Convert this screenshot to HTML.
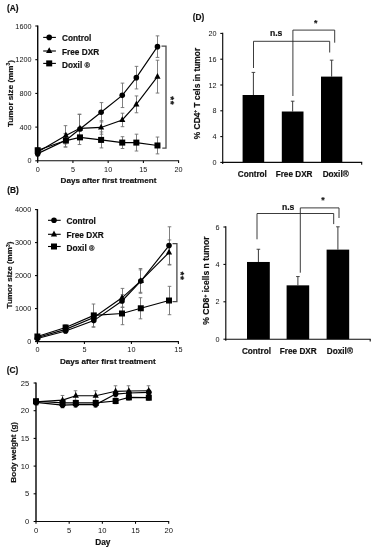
<!DOCTYPE html>
<html lang="en"><head><meta charset="utf-8"><title>Figure</title>
<style>html,body{margin:0;padding:0;background:#fff;}svg{display:block;font-family:"Liberation Sans", Arial, Helvetica, sans-serif;}</style></head><body>
<svg width="375" height="550" viewBox="0 0 375 550">
<rect width="375" height="550" fill="#fff"/>
<text x="7.00" y="11.30" font-size="8.3" font-weight="bold" text-anchor="start" fill="#111"  stroke="#111" stroke-width="0.18">(A)</text>
<line x1="37.50" y1="151.11" x2="37.50" y2="156.17" stroke="#707070" stroke-width="0.9" />
<line x1="35.70" y1="151.11" x2="39.30" y2="151.11" stroke="#707070" stroke-width="0.9" />
<line x1="35.70" y1="156.17" x2="39.30" y2="156.17" stroke="#707070" stroke-width="0.9" />
<line x1="65.50" y1="133.42" x2="65.50" y2="146.98" stroke="#707070" stroke-width="0.9" />
<line x1="63.70" y1="133.42" x2="67.30" y2="133.42" stroke="#707070" stroke-width="0.9" />
<line x1="63.70" y1="146.98" x2="67.30" y2="146.98" stroke="#707070" stroke-width="0.9" />
<line x1="79.50" y1="114.29" x2="79.50" y2="137.46" stroke="#707070" stroke-width="0.9" />
<line x1="77.70" y1="114.29" x2="81.30" y2="114.29" stroke="#707070" stroke-width="0.9" />
<line x1="77.70" y1="137.46" x2="81.30" y2="137.46" stroke="#707070" stroke-width="0.9" />
<line x1="101.50" y1="102.58" x2="101.50" y2="121.96" stroke="#707070" stroke-width="0.9" />
<line x1="99.70" y1="102.58" x2="103.30" y2="102.58" stroke="#707070" stroke-width="0.9" />
<line x1="99.70" y1="121.96" x2="103.30" y2="121.96" stroke="#707070" stroke-width="0.9" />
<line x1="122.50" y1="83.12" x2="122.50" y2="107.55" stroke="#707070" stroke-width="0.9" />
<line x1="120.70" y1="83.12" x2="124.30" y2="83.12" stroke="#707070" stroke-width="0.9" />
<line x1="120.70" y1="107.55" x2="124.30" y2="107.55" stroke="#707070" stroke-width="0.9" />
<line x1="136.50" y1="66.36" x2="136.50" y2="88.93" stroke="#707070" stroke-width="0.9" />
<line x1="134.70" y1="66.36" x2="138.30" y2="66.36" stroke="#707070" stroke-width="0.9" />
<line x1="134.70" y1="88.93" x2="138.30" y2="88.93" stroke="#707070" stroke-width="0.9" />
<line x1="157.50" y1="35.86" x2="157.50" y2="57.43" stroke="#707070" stroke-width="0.9" />
<line x1="155.70" y1="35.86" x2="159.30" y2="35.86" stroke="#707070" stroke-width="0.9" />
<line x1="155.70" y1="57.43" x2="159.30" y2="57.43" stroke="#707070" stroke-width="0.9" />
<line x1="37.50" y1="149.43" x2="37.50" y2="154.48" stroke="#707070" stroke-width="0.9" />
<line x1="35.70" y1="149.43" x2="39.30" y2="149.43" stroke="#707070" stroke-width="0.9" />
<line x1="35.70" y1="154.48" x2="39.30" y2="154.48" stroke="#707070" stroke-width="0.9" />
<line x1="65.50" y1="125.67" x2="65.50" y2="143.95" stroke="#707070" stroke-width="0.9" />
<line x1="63.70" y1="125.67" x2="67.30" y2="125.67" stroke="#707070" stroke-width="0.9" />
<line x1="63.70" y1="143.95" x2="67.30" y2="143.95" stroke="#707070" stroke-width="0.9" />
<line x1="79.50" y1="114.29" x2="79.50" y2="136.79" stroke="#707070" stroke-width="0.9" />
<line x1="77.70" y1="114.29" x2="81.30" y2="114.29" stroke="#707070" stroke-width="0.9" />
<line x1="77.70" y1="136.79" x2="81.30" y2="136.79" stroke="#707070" stroke-width="0.9" />
<line x1="101.50" y1="120.70" x2="101.50" y2="134.18" stroke="#707070" stroke-width="0.9" />
<line x1="99.70" y1="120.70" x2="103.30" y2="120.70" stroke="#707070" stroke-width="0.9" />
<line x1="99.70" y1="134.18" x2="103.30" y2="134.18" stroke="#707070" stroke-width="0.9" />
<line x1="122.50" y1="113.20" x2="122.50" y2="126.68" stroke="#707070" stroke-width="0.9" />
<line x1="120.70" y1="113.20" x2="124.30" y2="113.20" stroke="#707070" stroke-width="0.9" />
<line x1="120.70" y1="126.68" x2="124.30" y2="126.68" stroke="#707070" stroke-width="0.9" />
<line x1="136.50" y1="95.93" x2="136.50" y2="112.78" stroke="#707070" stroke-width="0.9" />
<line x1="134.70" y1="95.93" x2="138.30" y2="95.93" stroke="#707070" stroke-width="0.9" />
<line x1="134.70" y1="112.78" x2="138.30" y2="112.78" stroke="#707070" stroke-width="0.9" />
<line x1="157.50" y1="60.21" x2="157.50" y2="93.06" stroke="#707070" stroke-width="0.9" />
<line x1="155.70" y1="60.21" x2="159.30" y2="60.21" stroke="#707070" stroke-width="0.9" />
<line x1="155.70" y1="93.06" x2="159.30" y2="93.06" stroke="#707070" stroke-width="0.9" />
<line x1="37.50" y1="147.74" x2="37.50" y2="152.80" stroke="#707070" stroke-width="0.9" />
<line x1="35.70" y1="147.74" x2="39.30" y2="147.74" stroke="#707070" stroke-width="0.9" />
<line x1="35.70" y1="152.80" x2="39.30" y2="152.80" stroke="#707070" stroke-width="0.9" />
<line x1="65.50" y1="133.84" x2="65.50" y2="146.98" stroke="#707070" stroke-width="0.9" />
<line x1="63.70" y1="133.84" x2="67.30" y2="133.84" stroke="#707070" stroke-width="0.9" />
<line x1="63.70" y1="146.98" x2="67.30" y2="146.98" stroke="#707070" stroke-width="0.9" />
<line x1="79.50" y1="130.22" x2="79.50" y2="144.54" stroke="#707070" stroke-width="0.9" />
<line x1="77.70" y1="130.22" x2="81.30" y2="130.22" stroke="#707070" stroke-width="0.9" />
<line x1="77.70" y1="144.54" x2="81.30" y2="144.54" stroke="#707070" stroke-width="0.9" />
<line x1="101.50" y1="131.90" x2="101.50" y2="147.91" stroke="#707070" stroke-width="0.9" />
<line x1="99.70" y1="131.90" x2="103.30" y2="131.90" stroke="#707070" stroke-width="0.9" />
<line x1="99.70" y1="147.91" x2="103.30" y2="147.91" stroke="#707070" stroke-width="0.9" />
<line x1="122.50" y1="136.70" x2="122.50" y2="148.50" stroke="#707070" stroke-width="0.9" />
<line x1="120.70" y1="136.70" x2="124.30" y2="136.70" stroke="#707070" stroke-width="0.9" />
<line x1="120.70" y1="148.50" x2="124.30" y2="148.50" stroke="#707070" stroke-width="0.9" />
<line x1="136.50" y1="134.18" x2="136.50" y2="151.03" stroke="#707070" stroke-width="0.9" />
<line x1="134.70" y1="134.18" x2="138.30" y2="134.18" stroke="#707070" stroke-width="0.9" />
<line x1="134.70" y1="151.03" x2="138.30" y2="151.03" stroke="#707070" stroke-width="0.9" />
<line x1="157.50" y1="137.04" x2="157.50" y2="153.89" stroke="#707070" stroke-width="0.9" />
<line x1="155.70" y1="137.04" x2="159.30" y2="137.04" stroke="#707070" stroke-width="0.9" />
<line x1="155.70" y1="153.89" x2="159.30" y2="153.89" stroke="#707070" stroke-width="0.9" />
<line x1="37.70" y1="161.30" x2="37.70" y2="25.50" stroke="#0a0a0a" stroke-width="1.45" />
<line x1="37.20" y1="160.80" x2="179.10" y2="160.80" stroke="#0a0a0a" stroke-width="1.1" />
<line x1="37.70" y1="160.80" x2="37.70" y2="163.10" stroke="#000" stroke-width="1.05" />
<text x="37.70" y="171.60" font-size="7.25" font-weight="normal" text-anchor="middle" fill="#111" >0</text>
<line x1="72.93" y1="160.80" x2="72.93" y2="163.10" stroke="#000" stroke-width="1.05" />
<text x="72.93" y="171.60" font-size="7.25" font-weight="normal" text-anchor="middle" fill="#111" >5</text>
<line x1="108.15" y1="160.80" x2="108.15" y2="163.10" stroke="#000" stroke-width="1.05" />
<text x="108.15" y="171.60" font-size="7.25" font-weight="normal" text-anchor="middle" fill="#111" >10</text>
<line x1="143.38" y1="160.80" x2="143.38" y2="163.10" stroke="#000" stroke-width="1.05" />
<text x="143.38" y="171.60" font-size="7.25" font-weight="normal" text-anchor="middle" fill="#111" >15</text>
<line x1="178.60" y1="160.80" x2="178.60" y2="163.10" stroke="#000" stroke-width="1.05" />
<text x="178.60" y="171.60" font-size="7.25" font-weight="normal" text-anchor="middle" fill="#111" >20</text>
<line x1="35.30" y1="160.80" x2="37.70" y2="160.80" stroke="#000" stroke-width="1.05" />
<text x="31.50" y="163.35" font-size="7.25" font-weight="normal" text-anchor="end" fill="#111" >0</text>
<line x1="35.30" y1="127.10" x2="37.70" y2="127.10" stroke="#000" stroke-width="1.05" />
<text x="31.50" y="129.65" font-size="7.25" font-weight="normal" text-anchor="end" fill="#111" >400</text>
<line x1="35.30" y1="93.40" x2="37.70" y2="93.40" stroke="#000" stroke-width="1.05" />
<text x="31.50" y="95.95" font-size="7.25" font-weight="normal" text-anchor="end" fill="#111" >800</text>
<line x1="35.30" y1="59.70" x2="37.70" y2="59.70" stroke="#000" stroke-width="1.05" />
<text x="31.50" y="62.25" font-size="7.25" font-weight="normal" text-anchor="end" fill="#111" >1200</text>
<line x1="35.30" y1="26.00" x2="37.70" y2="26.00" stroke="#000" stroke-width="1.05" />
<text x="31.50" y="28.55" font-size="7.25" font-weight="normal" text-anchor="end" fill="#111" >1600</text>
<polyline points="37.70,153.64 65.88,140.16 79.97,129.04 101.11,112.27 122.24,95.34 136.33,77.65 157.47,46.64" fill="none" stroke="#000" stroke-width="1.15"/>
<circle cx="37.70" cy="153.64" r="2.8" fill="#000"/>
<circle cx="65.88" cy="140.16" r="2.8" fill="#000"/>
<circle cx="79.97" cy="129.04" r="2.8" fill="#000"/>
<circle cx="101.11" cy="112.27" r="2.8" fill="#000"/>
<circle cx="122.24" cy="95.34" r="2.8" fill="#000"/>
<circle cx="136.33" cy="77.65" r="2.8" fill="#000"/>
<circle cx="157.47" cy="46.64" r="2.8" fill="#000"/>
<polyline points="37.70,151.95 65.88,135.53 79.97,128.36 101.11,127.44 122.24,119.94 136.33,104.35 157.47,76.63" fill="none" stroke="#000" stroke-width="1.15"/>
<polygon points="37.70,148.25 34.60,154.05 40.80,154.05" fill="#000"/>
<polygon points="65.88,131.83 62.78,137.62 68.98,137.62" fill="#000"/>
<polygon points="79.97,124.66 76.87,130.46 83.07,130.46" fill="#000"/>
<polygon points="101.11,123.74 98.01,129.54 104.20,129.54" fill="#000"/>
<polygon points="122.24,116.24 119.14,122.04 125.34,122.04" fill="#000"/>
<polygon points="136.33,100.65 133.23,106.45 139.43,106.45" fill="#000"/>
<polygon points="157.47,72.93 154.37,78.73 160.56,78.73" fill="#000"/>
<polyline points="37.70,150.27 65.88,140.58 79.97,137.38 101.11,139.91 122.24,142.60 136.33,142.60 157.47,145.47" fill="none" stroke="#000" stroke-width="1.15"/>
<rect x="34.70" y="147.27" width="6.00" height="6.00" fill="#000"/>
<rect x="62.88" y="137.58" width="6.00" height="6.00" fill="#000"/>
<rect x="76.97" y="134.38" width="6.00" height="6.00" fill="#000"/>
<rect x="98.11" y="136.91" width="6.00" height="6.00" fill="#000"/>
<rect x="119.24" y="139.60" width="6.00" height="6.00" fill="#000"/>
<rect x="133.33" y="139.60" width="6.00" height="6.00" fill="#000"/>
<rect x="154.47" y="142.47" width="6.00" height="6.00" fill="#000"/>
<line x1="43.20" y1="37.40" x2="55.90" y2="37.40" stroke="#000" stroke-width="1.1" />
<circle cx="49.20" cy="37.40" r="2.8" fill="#000"/>
<text x="62.00" y="40.90" font-size="8.25" font-weight="bold" text-anchor="start" fill="#111"  stroke="#111" stroke-width="0.18">Control</text>
<line x1="43.20" y1="51.00" x2="55.90" y2="51.00" stroke="#000" stroke-width="1.1" />
<polygon points="49.20,47.30 46.10,53.10 52.30,53.10" fill="#000"/>
<text x="62.00" y="54.50" font-size="8.25" font-weight="bold" text-anchor="start" fill="#111"  stroke="#111" stroke-width="0.18">Free DXR</text>
<line x1="43.20" y1="63.40" x2="55.90" y2="63.40" stroke="#000" stroke-width="1.1" />
<rect x="46.20" y="60.40" width="6.00" height="6.00" fill="#000"/>
<text x="62.00" y="67.80" font-size="8.25" font-weight="bold" text-anchor="start" fill="#111"  stroke="#111" stroke-width="0.18">Doxil <tspan font-size="7.4" dy="-0.2">®</tspan></text>
<text x="108.50" y="182.50" font-size="8.1" font-weight="bold" text-anchor="middle" fill="#111"  stroke="#111" stroke-width="0.18">Days after first treatment</text>
<text x="13.00" y="93.50" font-size="8.1" font-weight="bold" text-anchor="middle" fill="#111" transform="rotate(-90 13.00 93.50)"  stroke="#111" stroke-width="0.18">Tumor size (mm<tspan font-size="5" dy="-2.6">3</tspan><tspan dy="2.6">)</tspan></text>
<polyline points="161.5,46.2 166.0,46.2 166.0,148.2 162.3,148.2" fill="none" stroke="#4a4a4a" stroke-width="1.3"/>
<text x="168.40" y="100.90" font-size="9.2" font-weight="bold" text-anchor="middle" fill="#111" transform="rotate(90 168.40 100.90)" letter-spacing="0.9" stroke="#111" stroke-width="0.3">**</text>
<text x="7.30" y="193.10" font-size="8.3" font-weight="bold" text-anchor="start" fill="#111"  stroke="#111" stroke-width="0.18">(B)</text>
<line x1="37.50" y1="337.15" x2="37.50" y2="339.79" stroke="#707070" stroke-width="0.9" />
<line x1="35.70" y1="337.15" x2="39.30" y2="337.15" stroke="#707070" stroke-width="0.9" />
<line x1="35.70" y1="339.79" x2="39.30" y2="339.79" stroke="#707070" stroke-width="0.9" />
<line x1="65.50" y1="329.06" x2="65.50" y2="333.02" stroke="#707070" stroke-width="0.9" />
<line x1="63.70" y1="329.06" x2="67.30" y2="329.06" stroke="#707070" stroke-width="0.9" />
<line x1="63.70" y1="333.02" x2="67.30" y2="333.02" stroke="#707070" stroke-width="0.9" />
<line x1="93.50" y1="314.01" x2="93.50" y2="327.21" stroke="#707070" stroke-width="0.9" />
<line x1="91.70" y1="314.01" x2="95.30" y2="314.01" stroke="#707070" stroke-width="0.9" />
<line x1="91.70" y1="327.21" x2="95.30" y2="327.21" stroke="#707070" stroke-width="0.9" />
<line x1="122.50" y1="294.74" x2="122.50" y2="307.28" stroke="#707070" stroke-width="0.9" />
<line x1="120.70" y1="294.74" x2="124.30" y2="294.74" stroke="#707070" stroke-width="0.9" />
<line x1="120.70" y1="307.28" x2="124.30" y2="307.28" stroke="#707070" stroke-width="0.9" />
<line x1="140.50" y1="269.89" x2="140.50" y2="292.33" stroke="#707070" stroke-width="0.9" />
<line x1="138.70" y1="269.89" x2="142.30" y2="269.89" stroke="#707070" stroke-width="0.9" />
<line x1="138.70" y1="292.33" x2="142.30" y2="292.33" stroke="#707070" stroke-width="0.9" />
<line x1="169.50" y1="226.79" x2="169.50" y2="264.41" stroke="#707070" stroke-width="0.9" />
<line x1="167.70" y1="226.79" x2="171.30" y2="226.79" stroke="#707070" stroke-width="0.9" />
<line x1="167.70" y1="264.41" x2="171.30" y2="264.41" stroke="#707070" stroke-width="0.9" />
<line x1="37.50" y1="336.16" x2="37.50" y2="338.80" stroke="#707070" stroke-width="0.9" />
<line x1="35.70" y1="336.16" x2="39.30" y2="336.16" stroke="#707070" stroke-width="0.9" />
<line x1="35.70" y1="338.80" x2="39.30" y2="338.80" stroke="#707070" stroke-width="0.9" />
<line x1="65.50" y1="327.41" x2="65.50" y2="331.37" stroke="#707070" stroke-width="0.9" />
<line x1="63.70" y1="327.41" x2="67.30" y2="327.41" stroke="#707070" stroke-width="0.9" />
<line x1="63.70" y1="331.37" x2="67.30" y2="331.37" stroke="#707070" stroke-width="0.9" />
<line x1="93.50" y1="313.55" x2="93.50" y2="321.47" stroke="#707070" stroke-width="0.9" />
<line x1="91.70" y1="313.55" x2="95.30" y2="313.55" stroke="#707070" stroke-width="0.9" />
<line x1="91.70" y1="321.47" x2="95.30" y2="321.47" stroke="#707070" stroke-width="0.9" />
<line x1="122.50" y1="288.40" x2="122.50" y2="307.21" stroke="#707070" stroke-width="0.9" />
<line x1="120.70" y1="288.40" x2="124.30" y2="288.40" stroke="#707070" stroke-width="0.9" />
<line x1="120.70" y1="307.21" x2="124.30" y2="307.21" stroke="#707070" stroke-width="0.9" />
<line x1="140.50" y1="268.50" x2="140.50" y2="293.25" stroke="#707070" stroke-width="0.9" />
<line x1="138.70" y1="268.50" x2="142.30" y2="268.50" stroke="#707070" stroke-width="0.9" />
<line x1="138.70" y1="293.25" x2="142.30" y2="293.25" stroke="#707070" stroke-width="0.9" />
<line x1="169.50" y1="239.96" x2="169.50" y2="265.04" stroke="#707070" stroke-width="0.9" />
<line x1="167.70" y1="239.96" x2="171.30" y2="239.96" stroke="#707070" stroke-width="0.9" />
<line x1="167.70" y1="265.04" x2="171.30" y2="265.04" stroke="#707070" stroke-width="0.9" />
<line x1="37.50" y1="335.17" x2="37.50" y2="337.81" stroke="#707070" stroke-width="0.9" />
<line x1="35.70" y1="335.17" x2="39.30" y2="335.17" stroke="#707070" stroke-width="0.9" />
<line x1="35.70" y1="337.81" x2="39.30" y2="337.81" stroke="#707070" stroke-width="0.9" />
<line x1="65.50" y1="324.87" x2="65.50" y2="330.15" stroke="#707070" stroke-width="0.9" />
<line x1="63.70" y1="324.87" x2="67.30" y2="324.87" stroke="#707070" stroke-width="0.9" />
<line x1="63.70" y1="330.15" x2="67.30" y2="330.15" stroke="#707070" stroke-width="0.9" />
<line x1="93.50" y1="304.01" x2="93.50" y2="326.78" stroke="#707070" stroke-width="0.9" />
<line x1="91.70" y1="304.01" x2="95.30" y2="304.01" stroke="#707070" stroke-width="0.9" />
<line x1="91.70" y1="326.78" x2="95.30" y2="326.78" stroke="#707070" stroke-width="0.9" />
<line x1="122.50" y1="302.26" x2="122.50" y2="324.70" stroke="#707070" stroke-width="0.9" />
<line x1="120.70" y1="302.26" x2="124.30" y2="302.26" stroke="#707070" stroke-width="0.9" />
<line x1="120.70" y1="324.70" x2="124.30" y2="324.70" stroke="#707070" stroke-width="0.9" />
<line x1="140.50" y1="297.71" x2="140.50" y2="318.83" stroke="#707070" stroke-width="0.9" />
<line x1="138.70" y1="297.71" x2="142.30" y2="297.71" stroke="#707070" stroke-width="0.9" />
<line x1="138.70" y1="318.83" x2="142.30" y2="318.83" stroke="#707070" stroke-width="0.9" />
<line x1="169.50" y1="286.33" x2="169.50" y2="314.71" stroke="#707070" stroke-width="0.9" />
<line x1="167.70" y1="286.33" x2="171.30" y2="286.33" stroke="#707070" stroke-width="0.9" />
<line x1="167.70" y1="314.71" x2="171.30" y2="314.71" stroke="#707070" stroke-width="0.9" />
<line x1="37.40" y1="342.10" x2="37.40" y2="209.10" stroke="#0a0a0a" stroke-width="1.45" />
<line x1="36.90" y1="341.60" x2="178.90" y2="341.60" stroke="#0a0a0a" stroke-width="1.1" />
<line x1="37.40" y1="341.60" x2="37.40" y2="343.90" stroke="#000" stroke-width="1.05" />
<text x="37.40" y="352.40" font-size="7.25" font-weight="normal" text-anchor="middle" fill="#111" >0</text>
<line x1="84.40" y1="341.60" x2="84.40" y2="343.90" stroke="#000" stroke-width="1.05" />
<text x="84.40" y="352.40" font-size="7.25" font-weight="normal" text-anchor="middle" fill="#111" >5</text>
<line x1="131.40" y1="341.60" x2="131.40" y2="343.90" stroke="#000" stroke-width="1.05" />
<text x="131.40" y="352.40" font-size="7.25" font-weight="normal" text-anchor="middle" fill="#111" >10</text>
<line x1="178.40" y1="341.60" x2="178.40" y2="343.90" stroke="#000" stroke-width="1.05" />
<text x="178.40" y="352.40" font-size="7.25" font-weight="normal" text-anchor="middle" fill="#111" >15</text>
<line x1="35.00" y1="341.60" x2="37.40" y2="341.60" stroke="#000" stroke-width="1.05" />
<text x="31.20" y="344.15" font-size="7.25" font-weight="normal" text-anchor="end" fill="#111" >0</text>
<line x1="35.00" y1="308.60" x2="37.40" y2="308.60" stroke="#000" stroke-width="1.05" />
<text x="31.20" y="311.15" font-size="7.25" font-weight="normal" text-anchor="end" fill="#111" >1000</text>
<line x1="35.00" y1="275.60" x2="37.40" y2="275.60" stroke="#000" stroke-width="1.05" />
<text x="31.20" y="278.15" font-size="7.25" font-weight="normal" text-anchor="end" fill="#111" >2000</text>
<line x1="35.00" y1="242.60" x2="37.40" y2="242.60" stroke="#000" stroke-width="1.05" />
<text x="31.20" y="245.15" font-size="7.25" font-weight="normal" text-anchor="end" fill="#111" >3000</text>
<line x1="35.00" y1="209.60" x2="37.40" y2="209.60" stroke="#000" stroke-width="1.05" />
<text x="31.20" y="212.15" font-size="7.25" font-weight="normal" text-anchor="end" fill="#111" >4000</text>
<polyline points="37.40,338.47 65.60,331.04 93.80,320.61 122.00,301.01 140.80,281.11 169.00,245.60" fill="none" stroke="#000" stroke-width="1.15"/>
<circle cx="37.40" cy="338.47" r="2.8" fill="#000"/>
<circle cx="65.60" cy="331.04" r="2.8" fill="#000"/>
<circle cx="93.80" cy="320.61" r="2.8" fill="#000"/>
<circle cx="122.00" cy="301.01" r="2.8" fill="#000"/>
<circle cx="140.80" cy="281.11" r="2.8" fill="#000"/>
<circle cx="169.00" cy="245.60" r="2.8" fill="#000"/>
<polyline points="37.40,337.48 65.60,329.39 93.80,317.51 122.00,297.81 140.80,280.88 169.00,252.50" fill="none" stroke="#000" stroke-width="1.15"/>
<polygon points="37.40,333.78 34.30,339.58 40.50,339.58" fill="#000"/>
<polygon points="65.60,325.69 62.50,331.49 68.70,331.49" fill="#000"/>
<polygon points="93.80,313.81 90.70,319.61 96.90,319.61" fill="#000"/>
<polygon points="122.00,294.11 118.90,299.91 125.10,299.91" fill="#000"/>
<polygon points="140.80,277.18 137.70,282.98 143.90,282.98" fill="#000"/>
<polygon points="169.00,248.80 165.90,254.60 172.10,254.60" fill="#000"/>
<polyline points="37.40,336.49 65.60,327.51 93.80,315.40 122.00,313.48 140.80,308.27 169.00,300.52" fill="none" stroke="#000" stroke-width="1.15"/>
<rect x="34.40" y="333.49" width="6.00" height="6.00" fill="#000"/>
<rect x="62.60" y="324.51" width="6.00" height="6.00" fill="#000"/>
<rect x="90.80" y="312.40" width="6.00" height="6.00" fill="#000"/>
<rect x="119.00" y="310.48" width="6.00" height="6.00" fill="#000"/>
<rect x="137.80" y="305.27" width="6.00" height="6.00" fill="#000"/>
<rect x="166.00" y="297.52" width="6.00" height="6.00" fill="#000"/>
<line x1="48.00" y1="220.30" x2="60.70" y2="220.30" stroke="#000" stroke-width="1.1" />
<circle cx="54.00" cy="220.30" r="2.8" fill="#000"/>
<text x="66.50" y="223.80" font-size="8.25" font-weight="bold" text-anchor="start" fill="#111"  stroke="#111" stroke-width="0.18">Control</text>
<line x1="48.00" y1="234.30" x2="60.70" y2="234.30" stroke="#000" stroke-width="1.1" />
<polygon points="54.00,230.60 50.90,236.40 57.10,236.40" fill="#000"/>
<text x="66.50" y="237.80" font-size="8.25" font-weight="bold" text-anchor="start" fill="#111"  stroke="#111" stroke-width="0.18">Free DXR</text>
<line x1="48.00" y1="246.50" x2="60.70" y2="246.50" stroke="#000" stroke-width="1.1" />
<rect x="51.00" y="243.50" width="6.00" height="6.00" fill="#000"/>
<text x="66.50" y="250.90" font-size="8.25" font-weight="bold" text-anchor="start" fill="#111"  stroke="#111" stroke-width="0.18">Doxil <tspan font-size="7.4" dy="-0.2">®</tspan></text>
<text x="107.80" y="363.70" font-size="8.1" font-weight="bold" text-anchor="middle" fill="#111"  stroke="#111" stroke-width="0.18">Days after first treatment</text>
<text x="12.40" y="275.00" font-size="8.1" font-weight="bold" text-anchor="middle" fill="#111" transform="rotate(-90 12.40 275.00)"  stroke="#111" stroke-width="0.18">Tumor size (mm<tspan font-size="5" dy="-2.6">3</tspan><tspan dy="2.6">)</tspan></text>
<polyline points="172.5,243.7 176.9,243.7 176.9,301.7 172.5,301.7" fill="none" stroke="#4a4a4a" stroke-width="1.3"/>
<text x="177.90" y="276.20" font-size="9.2" font-weight="bold" text-anchor="middle" fill="#111" transform="rotate(90 177.90 276.20)" letter-spacing="0.9" stroke="#111" stroke-width="0.3">**</text>
<text x="6.70" y="373.10" font-size="8.3" font-weight="bold" text-anchor="start" fill="#111"  stroke="#111" stroke-width="0.18">(C)</text>
<line x1="36.50" y1="399.62" x2="36.50" y2="405.16" stroke="#707070" stroke-width="0.9" />
<line x1="34.70" y1="399.62" x2="38.30" y2="399.62" stroke="#707070" stroke-width="0.9" />
<line x1="34.70" y1="405.16" x2="38.30" y2="405.16" stroke="#707070" stroke-width="0.9" />
<line x1="62.50" y1="402.39" x2="62.50" y2="407.93" stroke="#707070" stroke-width="0.9" />
<line x1="60.70" y1="402.39" x2="64.30" y2="402.39" stroke="#707070" stroke-width="0.9" />
<line x1="60.70" y1="407.93" x2="64.30" y2="407.93" stroke="#707070" stroke-width="0.9" />
<line x1="75.50" y1="401.84" x2="75.50" y2="407.38" stroke="#707070" stroke-width="0.9" />
<line x1="73.70" y1="401.84" x2="77.30" y2="401.84" stroke="#707070" stroke-width="0.9" />
<line x1="73.70" y1="407.38" x2="77.30" y2="407.38" stroke="#707070" stroke-width="0.9" />
<line x1="95.50" y1="401.84" x2="95.50" y2="407.38" stroke="#707070" stroke-width="0.9" />
<line x1="93.70" y1="401.84" x2="97.30" y2="401.84" stroke="#707070" stroke-width="0.9" />
<line x1="93.70" y1="407.38" x2="97.30" y2="407.38" stroke="#707070" stroke-width="0.9" />
<line x1="115.50" y1="391.31" x2="115.50" y2="396.85" stroke="#707070" stroke-width="0.9" />
<line x1="113.70" y1="391.31" x2="117.30" y2="391.31" stroke="#707070" stroke-width="0.9" />
<line x1="113.70" y1="396.85" x2="117.30" y2="396.85" stroke="#707070" stroke-width="0.9" />
<line x1="128.50" y1="390.20" x2="128.50" y2="395.74" stroke="#707070" stroke-width="0.9" />
<line x1="126.70" y1="390.20" x2="130.30" y2="390.20" stroke="#707070" stroke-width="0.9" />
<line x1="126.70" y1="395.74" x2="130.30" y2="395.74" stroke="#707070" stroke-width="0.9" />
<line x1="148.50" y1="389.65" x2="148.50" y2="395.19" stroke="#707070" stroke-width="0.9" />
<line x1="146.70" y1="389.65" x2="150.30" y2="389.65" stroke="#707070" stroke-width="0.9" />
<line x1="146.70" y1="395.19" x2="150.30" y2="395.19" stroke="#707070" stroke-width="0.9" />
<line x1="36.50" y1="399.07" x2="36.50" y2="404.61" stroke="#707070" stroke-width="0.9" />
<line x1="34.70" y1="399.07" x2="38.30" y2="399.07" stroke="#707070" stroke-width="0.9" />
<line x1="34.70" y1="404.61" x2="38.30" y2="404.61" stroke="#707070" stroke-width="0.9" />
<line x1="62.50" y1="395.47" x2="62.50" y2="404.88" stroke="#707070" stroke-width="0.9" />
<line x1="60.70" y1="395.47" x2="64.30" y2="395.47" stroke="#707070" stroke-width="0.9" />
<line x1="60.70" y1="404.88" x2="64.30" y2="404.88" stroke="#707070" stroke-width="0.9" />
<line x1="75.50" y1="390.76" x2="75.50" y2="400.73" stroke="#707070" stroke-width="0.9" />
<line x1="73.70" y1="390.76" x2="77.30" y2="390.76" stroke="#707070" stroke-width="0.9" />
<line x1="73.70" y1="400.73" x2="77.30" y2="400.73" stroke="#707070" stroke-width="0.9" />
<line x1="95.50" y1="390.76" x2="95.50" y2="400.73" stroke="#707070" stroke-width="0.9" />
<line x1="93.70" y1="390.76" x2="97.30" y2="390.76" stroke="#707070" stroke-width="0.9" />
<line x1="93.70" y1="400.73" x2="97.30" y2="400.73" stroke="#707070" stroke-width="0.9" />
<line x1="115.50" y1="385.77" x2="115.50" y2="396.85" stroke="#707070" stroke-width="0.9" />
<line x1="113.70" y1="385.77" x2="117.30" y2="385.77" stroke="#707070" stroke-width="0.9" />
<line x1="113.70" y1="396.85" x2="117.30" y2="396.85" stroke="#707070" stroke-width="0.9" />
<line x1="128.50" y1="385.77" x2="128.50" y2="396.30" stroke="#707070" stroke-width="0.9" />
<line x1="126.70" y1="385.77" x2="130.30" y2="385.77" stroke="#707070" stroke-width="0.9" />
<line x1="126.70" y1="396.30" x2="130.30" y2="396.30" stroke="#707070" stroke-width="0.9" />
<line x1="148.50" y1="385.77" x2="148.50" y2="395.74" stroke="#707070" stroke-width="0.9" />
<line x1="146.70" y1="385.77" x2="150.30" y2="385.77" stroke="#707070" stroke-width="0.9" />
<line x1="146.70" y1="395.74" x2="150.30" y2="395.74" stroke="#707070" stroke-width="0.9" />
<line x1="36.50" y1="398.51" x2="36.50" y2="404.05" stroke="#707070" stroke-width="0.9" />
<line x1="34.70" y1="398.51" x2="38.30" y2="398.51" stroke="#707070" stroke-width="0.9" />
<line x1="34.70" y1="404.05" x2="38.30" y2="404.05" stroke="#707070" stroke-width="0.9" />
<line x1="62.50" y1="400.17" x2="62.50" y2="405.71" stroke="#707070" stroke-width="0.9" />
<line x1="60.70" y1="400.17" x2="64.30" y2="400.17" stroke="#707070" stroke-width="0.9" />
<line x1="60.70" y1="405.71" x2="64.30" y2="405.71" stroke="#707070" stroke-width="0.9" />
<line x1="75.50" y1="400.17" x2="75.50" y2="405.71" stroke="#707070" stroke-width="0.9" />
<line x1="73.70" y1="400.17" x2="77.30" y2="400.17" stroke="#707070" stroke-width="0.9" />
<line x1="73.70" y1="405.71" x2="77.30" y2="405.71" stroke="#707070" stroke-width="0.9" />
<line x1="95.50" y1="400.17" x2="95.50" y2="405.71" stroke="#707070" stroke-width="0.9" />
<line x1="93.70" y1="400.17" x2="97.30" y2="400.17" stroke="#707070" stroke-width="0.9" />
<line x1="93.70" y1="405.71" x2="97.30" y2="405.71" stroke="#707070" stroke-width="0.9" />
<line x1="115.50" y1="398.24" x2="115.50" y2="403.77" stroke="#707070" stroke-width="0.9" />
<line x1="113.70" y1="398.24" x2="117.30" y2="398.24" stroke="#707070" stroke-width="0.9" />
<line x1="113.70" y1="403.77" x2="117.30" y2="403.77" stroke="#707070" stroke-width="0.9" />
<line x1="128.50" y1="394.63" x2="128.50" y2="400.17" stroke="#707070" stroke-width="0.9" />
<line x1="126.70" y1="394.63" x2="130.30" y2="394.63" stroke="#707070" stroke-width="0.9" />
<line x1="126.70" y1="400.17" x2="130.30" y2="400.17" stroke="#707070" stroke-width="0.9" />
<line x1="148.50" y1="394.91" x2="148.50" y2="400.45" stroke="#707070" stroke-width="0.9" />
<line x1="146.70" y1="394.91" x2="150.30" y2="394.91" stroke="#707070" stroke-width="0.9" />
<line x1="146.70" y1="400.45" x2="150.30" y2="400.45" stroke="#707070" stroke-width="0.9" />
<line x1="36.00" y1="522.00" x2="36.00" y2="382.50" stroke="#0a0a0a" stroke-width="1.45" />
<line x1="35.50" y1="521.50" x2="169.20" y2="521.50" stroke="#0a0a0a" stroke-width="1.1" />
<line x1="36.00" y1="521.50" x2="36.00" y2="523.80" stroke="#000" stroke-width="1.05" />
<text x="36.00" y="533.30" font-size="7.6" font-weight="normal" text-anchor="middle" fill="#111" >0</text>
<line x1="69.17" y1="521.50" x2="69.17" y2="523.80" stroke="#000" stroke-width="1.05" />
<text x="69.17" y="533.30" font-size="7.6" font-weight="normal" text-anchor="middle" fill="#111" >5</text>
<line x1="102.35" y1="521.50" x2="102.35" y2="523.80" stroke="#000" stroke-width="1.05" />
<text x="102.35" y="533.30" font-size="7.6" font-weight="normal" text-anchor="middle" fill="#111" >10</text>
<line x1="135.52" y1="521.50" x2="135.52" y2="523.80" stroke="#000" stroke-width="1.05" />
<text x="135.52" y="533.30" font-size="7.6" font-weight="normal" text-anchor="middle" fill="#111" >15</text>
<line x1="168.70" y1="521.50" x2="168.70" y2="523.80" stroke="#000" stroke-width="1.05" />
<text x="168.70" y="533.30" font-size="7.6" font-weight="normal" text-anchor="middle" fill="#111" >20</text>
<line x1="33.60" y1="521.50" x2="36.00" y2="521.50" stroke="#000" stroke-width="1.05" />
<text x="29.20" y="524.05" font-size="7.6" font-weight="normal" text-anchor="end" fill="#111" >0</text>
<line x1="33.60" y1="493.80" x2="36.00" y2="493.80" stroke="#000" stroke-width="1.05" />
<text x="29.20" y="496.35" font-size="7.6" font-weight="normal" text-anchor="end" fill="#111" >5</text>
<line x1="33.60" y1="466.10" x2="36.00" y2="466.10" stroke="#000" stroke-width="1.05" />
<text x="29.20" y="468.65" font-size="7.6" font-weight="normal" text-anchor="end" fill="#111" >10</text>
<line x1="33.60" y1="438.40" x2="36.00" y2="438.40" stroke="#000" stroke-width="1.05" />
<text x="29.20" y="440.95" font-size="7.6" font-weight="normal" text-anchor="end" fill="#111" >15</text>
<line x1="33.60" y1="410.70" x2="36.00" y2="410.70" stroke="#000" stroke-width="1.05" />
<text x="29.20" y="413.25" font-size="7.6" font-weight="normal" text-anchor="end" fill="#111" >20</text>
<line x1="33.60" y1="383.00" x2="36.00" y2="383.00" stroke="#000" stroke-width="1.05" />
<text x="29.20" y="385.55" font-size="7.6" font-weight="normal" text-anchor="end" fill="#111" >25</text>
<polyline points="36.00,402.39 62.54,405.16 75.81,404.61 95.72,404.61 115.62,394.08 128.89,392.97 148.80,392.42" fill="none" stroke="#000" stroke-width="1.15"/>
<circle cx="36.00" cy="402.39" r="2.8" fill="#000"/>
<circle cx="62.54" cy="405.16" r="2.8" fill="#000"/>
<circle cx="75.81" cy="404.61" r="2.8" fill="#000"/>
<circle cx="95.72" cy="404.61" r="2.8" fill="#000"/>
<circle cx="115.62" cy="394.08" r="2.8" fill="#000"/>
<circle cx="128.89" cy="392.97" r="2.8" fill="#000"/>
<circle cx="148.80" cy="392.42" r="2.8" fill="#000"/>
<polyline points="36.00,401.84 62.54,400.17 75.81,395.74 95.72,395.74 115.62,391.31 128.89,391.03 148.80,390.76" fill="none" stroke="#000" stroke-width="1.15"/>
<polygon points="36.00,398.14 32.90,403.94 39.10,403.94" fill="#000"/>
<polygon points="62.54,396.47 59.44,402.27 65.64,402.27" fill="#000"/>
<polygon points="75.81,392.04 72.71,397.84 78.91,397.84" fill="#000"/>
<polygon points="95.72,392.04 92.62,397.84 98.81,397.84" fill="#000"/>
<polygon points="115.62,387.61 112.52,393.41 118.72,393.41" fill="#000"/>
<polygon points="128.89,387.33 125.79,393.13 131.99,393.13" fill="#000"/>
<polygon points="148.80,387.06 145.70,392.86 151.90,392.86" fill="#000"/>
<polyline points="36.00,401.28 62.54,402.94 75.81,402.94 95.72,402.94 115.62,401.00 128.89,397.40 148.80,397.68" fill="none" stroke="#000" stroke-width="1.15"/>
<rect x="33.00" y="398.28" width="6.00" height="6.00" fill="#000"/>
<rect x="59.54" y="399.94" width="6.00" height="6.00" fill="#000"/>
<rect x="72.81" y="399.94" width="6.00" height="6.00" fill="#000"/>
<rect x="92.72" y="399.94" width="6.00" height="6.00" fill="#000"/>
<rect x="112.62" y="398.00" width="6.00" height="6.00" fill="#000"/>
<rect x="125.89" y="394.40" width="6.00" height="6.00" fill="#000"/>
<rect x="145.80" y="394.68" width="6.00" height="6.00" fill="#000"/>
<text x="102.80" y="544.70" font-size="8.3" font-weight="bold" text-anchor="middle" fill="#111"  stroke="#111" stroke-width="0.18">Day</text>
<text x="16.40" y="452.30" font-size="8.1" font-weight="bold" text-anchor="middle" fill="#111" transform="rotate(-90 16.40 452.30)"  stroke="#111" stroke-width="0.18">Body weight (g)</text>
<text x="192.70" y="19.50" font-size="8.3" font-weight="bold" text-anchor="start" fill="#111"  stroke="#111" stroke-width="0.18">(D)</text>
<line x1="253.40" y1="95.00" x2="253.40" y2="72.42" stroke="#222" stroke-width="0.9" />
<line x1="251.60" y1="72.42" x2="255.20" y2="72.42" stroke="#333" stroke-width="0.9" />
<rect x="242.60" y="95.00" width="21.60" height="67.40" fill="#000"/>
<line x1="292.65" y1="111.51" x2="292.65" y2="101.19" stroke="#222" stroke-width="0.9" />
<line x1="290.85" y1="101.19" x2="294.45" y2="101.19" stroke="#333" stroke-width="0.9" />
<rect x="281.80" y="111.51" width="21.70" height="50.89" fill="#000"/>
<line x1="331.65" y1="76.61" x2="331.65" y2="60.17" stroke="#222" stroke-width="0.9" />
<line x1="329.85" y1="60.17" x2="333.45" y2="60.17" stroke="#333" stroke-width="0.9" />
<rect x="321.00" y="76.61" width="21.30" height="85.79" fill="#000"/>
<line x1="222.70" y1="164.00" x2="222.70" y2="32.80" stroke="#0a0a0a" stroke-width="1.15" />
<line x1="222.20" y1="162.40" x2="362.20" y2="162.40" stroke="#0a0a0a" stroke-width="1.1" />
<line x1="361.70" y1="162.40" x2="361.70" y2="164.70" stroke="#000" stroke-width="1.05" />
<line x1="220.30" y1="162.40" x2="222.70" y2="162.40" stroke="#000" stroke-width="1.05" />
<text x="216.50" y="164.90" font-size="7.25" font-weight="normal" text-anchor="end" fill="#111" >0</text>
<line x1="220.30" y1="136.60" x2="222.70" y2="136.60" stroke="#000" stroke-width="1.05" />
<text x="216.50" y="139.10" font-size="7.25" font-weight="normal" text-anchor="end" fill="#111" >4</text>
<line x1="220.30" y1="110.80" x2="222.70" y2="110.80" stroke="#000" stroke-width="1.05" />
<text x="216.50" y="113.30" font-size="7.25" font-weight="normal" text-anchor="end" fill="#111" >8</text>
<line x1="220.30" y1="85.00" x2="222.70" y2="85.00" stroke="#000" stroke-width="1.05" />
<text x="216.50" y="87.50" font-size="7.25" font-weight="normal" text-anchor="end" fill="#111" >12</text>
<line x1="220.30" y1="59.20" x2="222.70" y2="59.20" stroke="#000" stroke-width="1.05" />
<text x="216.50" y="61.70" font-size="7.25" font-weight="normal" text-anchor="end" fill="#111" >16</text>
<line x1="220.30" y1="33.40" x2="222.70" y2="33.40" stroke="#000" stroke-width="1.05" />
<text x="216.50" y="35.90" font-size="7.25" font-weight="normal" text-anchor="end" fill="#111" >20</text>
<text x="252.30" y="177.30" font-size="8.2" font-weight="bold" text-anchor="middle" fill="#111"  stroke="#111" stroke-width="0.18">Control</text>
<text x="294.10" y="177.30" font-size="8.2" font-weight="bold" text-anchor="middle" fill="#111"  stroke="#111" stroke-width="0.18">Free DXR</text>
<text x="335.70" y="177.30" font-size="8.2" font-weight="bold" text-anchor="middle" fill="#111"  stroke="#111" stroke-width="0.18">Doxil®</text>
<text x="199.80" y="93.50" font-size="8.4" font-weight="bold" text-anchor="middle" fill="#111" transform="rotate(-90 199.80 93.50)"  stroke="#111" stroke-width="0.18">% CD4<tspan font-size="5" dy="-2.6">+</tspan><tspan dy="2.6"> T  cels in tumor</tspan></text>
<polyline points="253.5,68 253.5,41.3 329.7,41.3 329.7,52.5" fill="none" stroke="#262626" stroke-width="0.9"/>
<polyline points="292.9,96 292.9,30.1 334.7,30.1 334.7,42.7" fill="none" stroke="#262626" stroke-width="0.9"/>
<text x="276.20" y="36.20" font-size="8.6" font-weight="bold" text-anchor="middle" fill="#111"  stroke="#111" stroke-width="0.18">n.s</text>
<text x="315.80" y="26.40" font-size="8.8" font-weight="bold" text-anchor="middle" fill="#111"  stroke="#111" stroke-width="0.18">*</text>
<line x1="258.40" y1="261.97" x2="258.40" y2="249.25" stroke="#222" stroke-width="0.9" />
<line x1="256.60" y1="249.25" x2="260.20" y2="249.25" stroke="#333" stroke-width="0.9" />
<rect x="247.00" y="261.97" width="22.80" height="77.23" fill="#000"/>
<line x1="297.90" y1="285.34" x2="297.90" y2="276.56" stroke="#222" stroke-width="0.9" />
<line x1="296.10" y1="276.56" x2="299.70" y2="276.56" stroke="#333" stroke-width="0.9" />
<rect x="286.60" y="285.34" width="22.60" height="53.86" fill="#000"/>
<line x1="337.90" y1="249.63" x2="337.90" y2="226.81" stroke="#222" stroke-width="0.9" />
<line x1="336.10" y1="226.81" x2="339.70" y2="226.81" stroke="#333" stroke-width="0.9" />
<rect x="326.60" y="249.63" width="22.60" height="89.57" fill="#000"/>
<line x1="225.80" y1="340.80" x2="225.80" y2="226.30" stroke="#0a0a0a" stroke-width="1.15" />
<line x1="225.30" y1="339.20" x2="370.70" y2="339.20" stroke="#0a0a0a" stroke-width="1.1" />
<line x1="370.20" y1="339.20" x2="370.20" y2="341.50" stroke="#000" stroke-width="1.05" />
<line x1="223.40" y1="339.20" x2="225.80" y2="339.20" stroke="#000" stroke-width="1.05" />
<text x="219.60" y="341.70" font-size="7.25" font-weight="normal" text-anchor="end" fill="#111" >0</text>
<line x1="223.40" y1="301.80" x2="225.80" y2="301.80" stroke="#000" stroke-width="1.05" />
<text x="219.60" y="304.30" font-size="7.25" font-weight="normal" text-anchor="end" fill="#111" >2</text>
<line x1="223.40" y1="264.40" x2="225.80" y2="264.40" stroke="#000" stroke-width="1.05" />
<text x="219.60" y="266.90" font-size="7.25" font-weight="normal" text-anchor="end" fill="#111" >4</text>
<line x1="223.40" y1="227.00" x2="225.80" y2="227.00" stroke="#000" stroke-width="1.05" />
<text x="219.60" y="229.50" font-size="7.25" font-weight="normal" text-anchor="end" fill="#111" >6</text>
<text x="256.50" y="354.10" font-size="8.2" font-weight="bold" text-anchor="middle" fill="#111"  stroke="#111" stroke-width="0.18">Control</text>
<text x="298.30" y="354.10" font-size="8.2" font-weight="bold" text-anchor="middle" fill="#111"  stroke="#111" stroke-width="0.18">Free DXR</text>
<text x="339.90" y="354.10" font-size="8.2" font-weight="bold" text-anchor="middle" fill="#111"  stroke="#111" stroke-width="0.18">Doxil®</text>
<text x="209.10" y="280.60" font-size="8.6" font-weight="bold" text-anchor="middle" fill="#111" transform="rotate(-90 209.10 280.60)"  stroke="#111" stroke-width="0.18">% CD8<tspan font-size="5" dy="-2.6">+</tspan><tspan dy="2.6"> icells n tumor</tspan></text>
<polyline points="257,239.3 257,213.5 333.7,213.5 333.7,224.1" fill="none" stroke="#262626" stroke-width="0.9"/>
<polyline points="300.3,272.7 300.3,207.9 339,207.9 339,218" fill="none" stroke="#262626" stroke-width="0.9"/>
<text x="288.20" y="209.60" font-size="8.6" font-weight="bold" text-anchor="middle" fill="#111"  stroke="#111" stroke-width="0.18">n.s</text>
<text x="323.00" y="202.60" font-size="8.8" font-weight="bold" text-anchor="middle" fill="#111"  stroke="#111" stroke-width="0.18">*</text>
</svg></body></html>
